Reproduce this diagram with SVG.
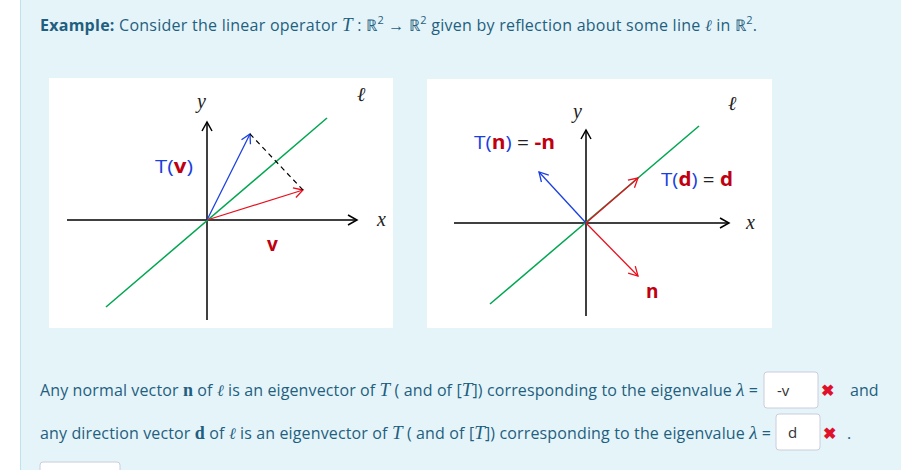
<svg xmlns="http://www.w3.org/2000/svg" width="901" height="470" viewBox="0 0 901 470">
<defs>
<style>
.t{font-family:"Open Sans","Liberation Sans",sans-serif;font-size:16px;fill:#1f5f7f}
.m{font-family:"Liberation Serif",serif;font-style:italic;font-size:20px;fill:#222}
.ax{stroke:#000;stroke-width:1.5;fill:none}
.g{stroke:#00a651;stroke-width:1.5}
.l{font-family:"Open Sans","Liberation Sans",sans-serif;font-size:19px}
.bx{fill:#fff;stroke:#ccd;stroke-width:1}
</style>
<marker id="ak" markerWidth="12" markerHeight="12" refX="10" refY="6" orient="auto" markerUnits="userSpaceOnUse"><path d="M1,1 L10,6 L1,11" fill="none" stroke="#000" stroke-width="1.5"/></marker>
<marker id="ab" markerWidth="12" markerHeight="12" refX="10" refY="6" orient="auto" markerUnits="userSpaceOnUse"><path d="M1,1 L10,6 L1,11" fill="none" stroke="#1a3fe0" stroke-width="1.3"/></marker>
<marker id="ar" markerWidth="12" markerHeight="12" refX="10" refY="6" orient="auto" markerUnits="userSpaceOnUse"><path d="M1,1 L10,6 L1,11" fill="none" stroke="#e8101e" stroke-width="1.3"/></marker>
</defs>
<rect x="0" y="0" width="901" height="470" fill="#fff"/>
<rect x="20" y="0" width="881" height="470" fill="#e5f4f9"/>
<line x1="20.5" y1="0" x2="20.5" y2="470" stroke="#bfe3ee"/>
<text class="t" x="40" y="31" textLength="717" lengthAdjust="spacing"><tspan font-weight="bold">Example:</tspan> Consider the linear operator <tspan font-family="Liberation Serif" font-style="italic" font-size="19">T</tspan> : ℝ<tspan font-size="11" dy="-7">2</tspan><tspan dy="7"> → ℝ</tspan><tspan font-size="11" dy="-7">2</tspan><tspan dy="7"> given by reflection about some line </tspan><tspan font-family="Liberation Serif" font-style="italic">ℓ</tspan> in ℝ<tspan font-size="11" dy="-7">2</tspan><tspan dy="7">.</tspan></text>
<g id="left">
<rect x="49" y="78" width="344" height="250" fill="#fff"/>
<line class="ax" x1="67" y1="220" x2="357" y2="220" marker-end="url(#ak)"/>
<line class="ax" x1="207" y1="320" x2="207" y2="122" marker-end="url(#ak)"/>
<line class="g" x1="106" y1="307" x2="327" y2="118"/>
<line x1="207" y1="220" x2="250" y2="134" stroke="#1a3fe0" stroke-width="1.3" marker-end="url(#ab)"/>
<line x1="207" y1="220" x2="303" y2="190" stroke="#e8101e" stroke-width="1.3" marker-end="url(#ar)"/>
<line x1="250" y1="134" x2="303" y2="190" stroke="#000" stroke-width="1.2" stroke-dasharray="5,4"/>
<text class="m" x="197" y="108">y</text>
<text class="m" x="357" y="101">ℓ</text>
<text class="m" x="377" y="226">x</text>
<text class="l" x="155" y="173" fill="#1a3fe0" textLength="38" lengthAdjust="spacingAndGlyphs">T(<tspan fill="#c00010" font-weight="bold">v</tspan>)</text>
<text class="l" x="267" y="251" fill="#c00010" font-weight="bold">v</text>
</g>
<g id="right">
<rect x="427" y="79" width="345" height="249" fill="#fff"/>
<line class="ax" x1="454" y1="223" x2="729" y2="223" marker-end="url(#ak)"/>
<line class="ax" x1="586" y1="316" x2="586" y2="130" marker-end="url(#ak)"/>
<line class="g" x1="490" y1="304" x2="699" y2="126"/>
<line x1="586" y1="223" x2="539" y2="172" stroke="#1a3fe0" stroke-width="1.3" marker-end="url(#ab)"/>
<line x1="586" y1="223" x2="638" y2="178" stroke="#e8101e" stroke-width="1.3" marker-end="url(#ar)"/>
<line x1="586" y1="223" x2="638" y2="276" stroke="#e8101e" stroke-width="1.3" marker-end="url(#ar)"/>
<text class="m" x="573" y="118">y</text>
<text class="m" x="728" y="110">ℓ</text>
<text class="m" x="746" y="229">x</text>
<text class="l" x="474" y="149" fill="#1a3fe0" textLength="81" lengthAdjust="spacingAndGlyphs">T(<tspan fill="#c00010" font-weight="bold">n</tspan>)<tspan fill="#222"> = </tspan><tspan fill="#c00010" font-weight="bold">-n</tspan></text>
<text class="l" x="661" y="186" fill="#1a3fe0" textLength="72" lengthAdjust="spacingAndGlyphs">T(<tspan fill="#c00010" font-weight="bold">d</tspan>)<tspan fill="#222"> = </tspan><tspan fill="#c00010" font-weight="bold">d</tspan></text>
<text class="l" x="646" y="298" fill="#c00010" font-weight="bold">n</text>
</g>
<text class="t" x="40" y="396" textLength="718" lengthAdjust="spacing">Any normal vector <tspan font-family="Liberation Serif" font-weight="bold" font-size="18">n</tspan> of <tspan font-family="Liberation Serif" font-style="italic">ℓ</tspan> is an eigenvector of <tspan font-family="Liberation Serif" font-style="italic" font-size="19">T</tspan> ( and of [<tspan font-family="Liberation Serif" font-style="italic" font-size="19">T</tspan>]) corresponding to the eigenvalue <tspan font-family="Liberation Serif" font-style="italic" font-size="19">λ</tspan> =</text>
<rect class="bx" x="764" y="372" width="54" height="36" rx="3"/>
<text x="777" y="396" font-family="Open Sans,sans-serif" font-size="15" fill="#333">-v</text>
<text x="821" y="396" font-family="Liberation Sans,sans-serif" font-size="16" font-weight="bold" fill="#e0102a">✖</text>
<text class="t" x="850" y="396">and</text>
<text class="t" x="40" y="439" textLength="731" lengthAdjust="spacing">any direction vector <tspan font-family="Liberation Serif" font-weight="bold" font-size="18">d</tspan> of <tspan font-family="Liberation Serif" font-style="italic">ℓ</tspan> is an eigenvector of <tspan font-family="Liberation Serif" font-style="italic" font-size="19">T</tspan> ( and of [<tspan font-family="Liberation Serif" font-style="italic" font-size="19">T</tspan>]) corresponding to the eigenvalue <tspan font-family="Liberation Serif" font-style="italic" font-size="19">λ</tspan> =</text>
<rect class="bx" x="776" y="414" width="44" height="36" rx="3"/>
<text x="788" y="438" font-family="Open Sans,sans-serif" font-size="15" fill="#333">d</text>
<text x="823" y="439" font-family="Liberation Sans,sans-serif" font-size="16" font-weight="bold" fill="#e0102a">✖</text>
<text class="t" x="847" y="439">.</text>
<rect class="bx" x="40" y="462" width="80" height="20" rx="3"/>
</svg>
